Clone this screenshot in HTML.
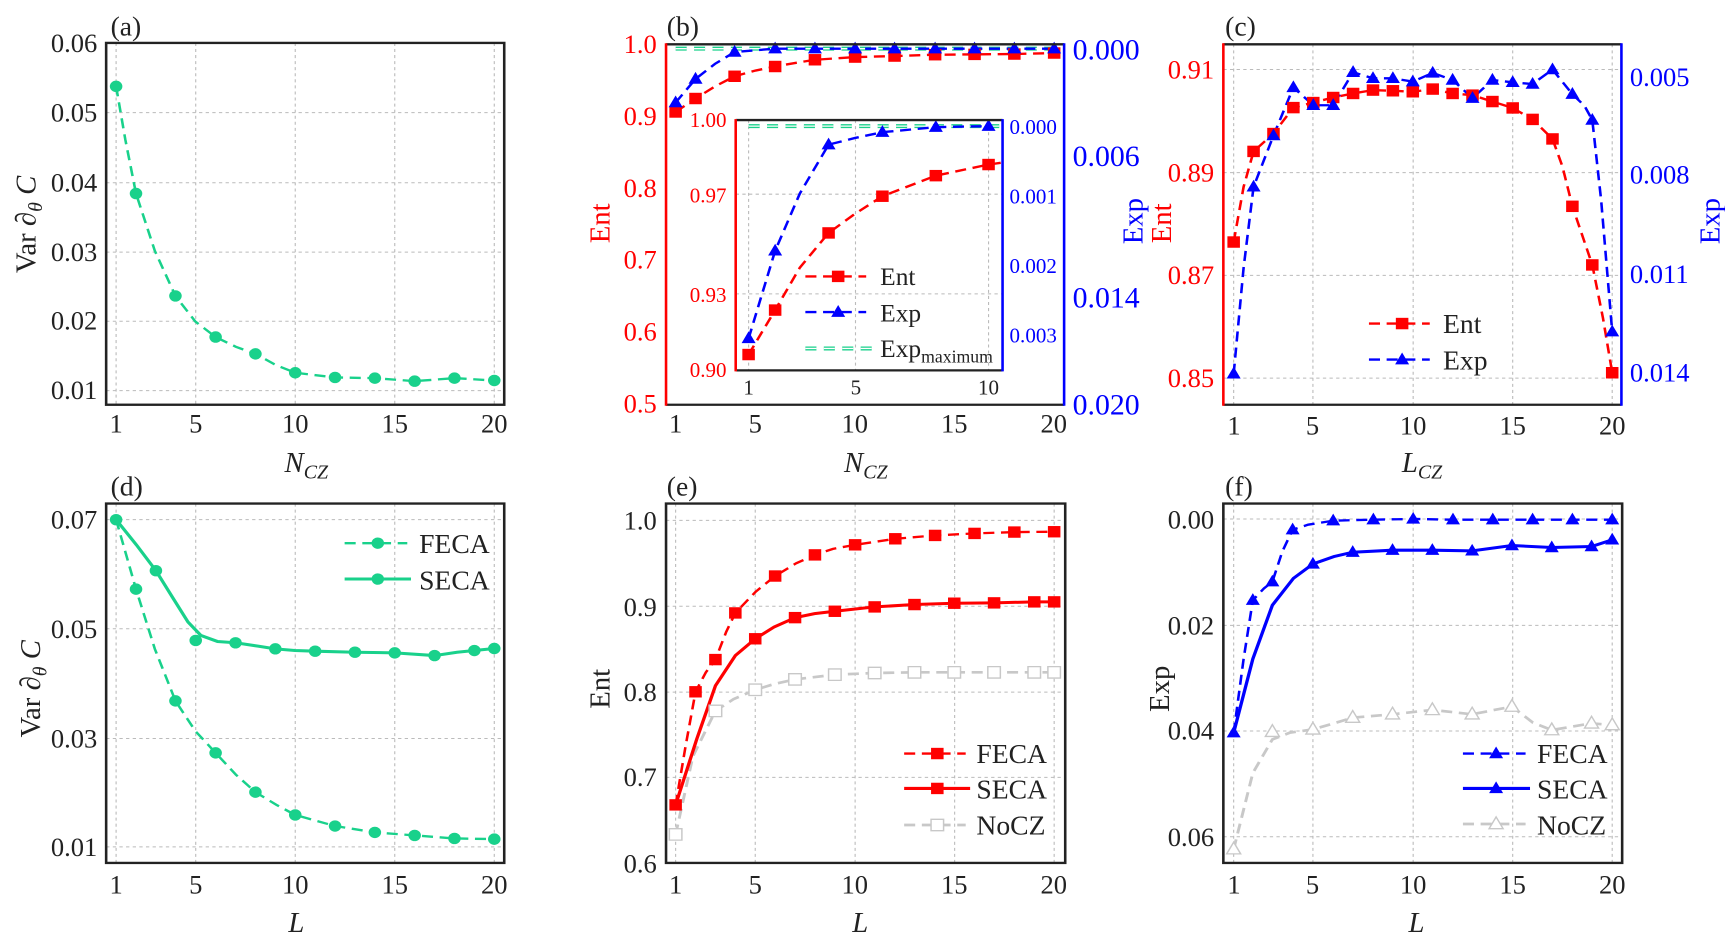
<!DOCTYPE html>
<html><head><meta charset="utf-8"><style>
html,body{margin:0;padding:0;background:#fff;}
svg{display:block;}
text{font-family:"Liberation Serif",serif;}
</style></head><body>
<svg width="1725" height="942" viewBox="0 0 1560 852" preserveAspectRatio="none" xmlns="http://www.w3.org/2000/svg">
<defs>
<path id="sq" d="M-17-17h34v34h-34z"/>
<path id="tri" d="M0-21L19 14H-19Z"/>
<circle id="ci" r="17"/>
</defs>
<rect width="1560" height="852" fill="#fff"/>

<!-- ===== Panel (a) ===== -->
<g transform="translate(0,-1.7) scale(0.33333,0.3047)">
<g stroke="#bbb" stroke-width="3" stroke-dasharray="9,9" fill="none">
<path d="M315 133V1207M531 133V1207M801 133V1207M1071 133V1207M1341 133V1207"/>
<path d="M288 340H1368M288 548H1368M288 754H1368M288 959H1368M288 1165H1368"/>
</g>
<polyline fill="none" stroke="#19d18b" stroke-width="7" stroke-dasharray="30,18" points="315,262 340,420 369,580 420,750 476,884 530,960 585,1006 640,1035 693,1056 750,1090 801,1112 909,1126 1017,1128 1125,1137 1233,1128 1341,1135"/>
<g fill="#19d18b">
<use href="#ci" x="315" y="262"/><use href="#ci" x="369" y="580"/><use href="#ci" x="476" y="884"/><use href="#ci" x="585" y="1006"/><use href="#ci" x="693" y="1056"/><use href="#ci" x="801" y="1112"/><use href="#ci" x="909" y="1126"/><use href="#ci" x="1017" y="1128"/><use href="#ci" x="1125" y="1137"/><use href="#ci" x="1233" y="1128"/><use href="#ci" x="1341" y="1135"/>
</g>
<rect x="288" y="133" width="1080" height="1074" fill="none" stroke="#222" stroke-width="7"/>
</g>
<g font-size="24" fill="#222" text-anchor="end">
<text x="88" y="47">0.06</text><text x="88" y="110">0.05</text><text x="88" y="173">0.04</text><text x="88" y="236">0.03</text><text x="88" y="298">0.02</text><text x="88" y="361">0.01</text>
</g>
<g font-size="24" fill="#222" text-anchor="middle">
<text x="105" y="391">1</text><text x="177" y="391">5</text><text x="267" y="391">10</text><text x="357" y="391">15</text><text x="447" y="391">20</text>
</g>
<text x="100" y="32" font-size="25" fill="#222">(a)</text>
<text transform="translate(32,203) rotate(-90)" font-size="26" fill="#222" text-anchor="middle">Var <tspan font-style="italic">∂</tspan><tspan font-style="italic" font-size="18" dy="6">θ</tspan><tspan font-style="italic" dy="-6"> C</tspan></text>
<text x="277" y="427" font-size="26" font-style="italic" fill="#222" text-anchor="middle">N<tspan font-size="18" dy="6">CZ</tspan></text>

<!-- ===== Panel (b) ===== -->
<g transform="translate(520,-1.7) scale(0.33333,0.3047)">
<polyline fill="none" stroke="#19d18b" stroke-width="12" stroke-dasharray="30,20" points="273,150 1315,150"/>
<polyline fill="none" stroke="#fff" stroke-width="4" stroke-dasharray="30,20" points="273,150 1315,150"/>
<polyline fill="none" stroke="#f00" stroke-width="7" stroke-dasharray="30,18" points="273,338 327,298 380,262 433,232 490,215 543,203 600,192 651,183 760,175 867,172 977,168 1084,167 1192,166 1300,163"/>
<polyline fill="none" stroke="#00f" stroke-width="7" stroke-dasharray="30,18" points="273,310 327,240 380,195 433,160 543,150 651,150 760,150 867,150 977,150 1084,150 1192,150 1300,150"/>
<g fill="#f00"><use href="#sq" x="273" y="338"/><use href="#sq" x="327" y="298"/><use href="#sq" x="433" y="232"/><use href="#sq" x="543" y="203"/><use href="#sq" x="651" y="183"/><use href="#sq" x="760" y="175"/><use href="#sq" x="867" y="172"/><use href="#sq" x="977" y="168"/><use href="#sq" x="1084" y="167"/><use href="#sq" x="1192" y="166"/><use href="#sq" x="1300" y="163"/></g>
<g fill="#00f"><use href="#tri" x="273" y="310"/><use href="#tri" x="327" y="240"/><use href="#tri" x="433" y="160"/><use href="#tri" x="543" y="150"/><use href="#tri" x="651" y="150"/><use href="#tri" x="760" y="150"/><use href="#tri" x="867" y="150"/><use href="#tri" x="977" y="150"/><use href="#tri" x="1084" y="150"/><use href="#tri" x="1192" y="150"/><use href="#tri" x="1300" y="150"/></g>
<path d="M247 137H1327M247 1207H1327" stroke="#222" stroke-width="7"/>
<path d="M247 134V1210" stroke="#f00" stroke-width="7"/>
<path d="M1327 134V1210" stroke="#00f" stroke-width="7"/>
<!-- inset -->
<rect x="436" y="362" width="724" height="743" fill="#fff"/>
<g stroke="#bbb" stroke-width="3" stroke-dasharray="9,9" fill="none">
<path d="M471 362V1105M761 362V1105M1122 362V1105M436 582H1160M436 878H1160"/>
</g>
<polyline fill="none" stroke="#19d18b" stroke-width="12" stroke-dasharray="30,20" points="471,380 1160,380"/>
<polyline fill="none" stroke="#fff" stroke-width="4" stroke-dasharray="30,20" points="471,380 1160,380"/>
<polyline fill="none" stroke="#f00" stroke-width="7" stroke-dasharray="30,18" points="471,1058 543,926 610,800 688,697 760,640 834,588 979,527 1122,494 1160,488"/>
<polyline fill="none" stroke="#00f" stroke-width="7" stroke-dasharray="30,18" points="471,1010 543,750 610,580 688,435 760,415 834,398 979,383 1122,380"/>
<g fill="#f00"><use href="#sq" x="471" y="1058"/><use href="#sq" x="543" y="926"/><use href="#sq" x="688" y="697"/><use href="#sq" x="834" y="588"/><use href="#sq" x="979" y="527"/><use href="#sq" x="1122" y="494"/></g>
<g fill="#00f"><use href="#tri" x="471" y="1010"/><use href="#tri" x="543" y="750"/><use href="#tri" x="688" y="435"/><use href="#tri" x="834" y="398"/><use href="#tri" x="979" y="383"/><use href="#tri" x="1122" y="380"/></g>
<path d="M625 826H790" stroke="#f00" stroke-width="7" stroke-dasharray="30,18"/><use href="#sq" x="714" y="826" fill="#f00"/>
<path d="M625 932H790" stroke="#00f" stroke-width="7" stroke-dasharray="30,18"/><use href="#tri" x="714" y="932" fill="#00f"/>
<path d="M625 1040H805" stroke="#19d18b" stroke-width="12" stroke-dasharray="30,20"/><path d="M625 1040H805" stroke="#fff" stroke-width="4" stroke-dasharray="30,20"/>
<path d="M436 362H1160M436 1105H1160" stroke="#222" stroke-width="7"/>
<path d="M436 359V1108" stroke="#f00" stroke-width="7"/>
<path d="M1160 359V1108" stroke="#00f" stroke-width="7"/>
</g>
<g font-size="24" fill="#f00" text-anchor="end">
<text x="594" y="48">1.0</text><text x="594" y="113">0.9</text><text x="594" y="178">0.8</text><text x="594" y="243">0.7</text><text x="594" y="308">0.6</text><text x="594" y="373">0.5</text>
</g>
<g font-size="27" fill="#00f">
<text x="970" y="54">0.000</text><text x="970" y="150">0.006</text><text x="970" y="278">0.014</text><text x="970" y="375">0.020</text>
</g>
<g font-size="24" fill="#222" text-anchor="middle">
<text x="611" y="391">1</text><text x="683" y="391">5</text><text x="773" y="391">10</text><text x="863" y="391">15</text><text x="953" y="391">20</text>
</g>
<g font-size="19" fill="#f00" text-anchor="end">
<text x="657" y="115">1.00</text><text x="657" y="183">0.97</text><text x="657" y="273">0.93</text><text x="657" y="341">0.90</text>
</g>
<g font-size="19" fill="#00f">
<text x="913" y="121">0.000</text><text x="913" y="184">0.001</text><text x="913" y="247">0.002</text><text x="913" y="310">0.003</text>
</g>
<g font-size="19" fill="#222" text-anchor="middle">
<text x="677" y="357">1</text><text x="774" y="357">5</text><text x="894" y="357">10</text>
</g>
<g font-size="23" fill="#222">
<text x="796" y="258">Ent</text><text x="796" y="291">Exp</text><text x="796" y="323">Exp<tspan font-size="16" dy="5">maximum</tspan></text>
</g>
<text x="603" y="32" font-size="25" fill="#222">(b)</text>
<text transform="translate(551,202) rotate(-90)" font-size="26" fill="#f00" text-anchor="middle">Ent</text>
<text transform="translate(1033,200) rotate(-90)" font-size="26" fill="#00f" text-anchor="middle">Exp</text>
<text x="783" y="427" font-size="26" font-style="italic" fill="#222" text-anchor="middle">N<tspan font-size="18" dy="6">CZ</tspan></text>

<!-- ===== Panel (c) ===== -->
<g transform="translate(1043,-1.7) scale(0.33333,0.3047)">
<g stroke="#bbb" stroke-width="3" stroke-dasharray="9,9" fill="none">
<path d="M218 137V1207M433 137V1207M705 137V1207M975 137V1207M1245 137V1207"/>
<path d="M190 212H1270M190 518H1270M190 823H1270M190 1128H1270"/>
</g>
<polyline fill="none" stroke="#f00" stroke-width="7" stroke-dasharray="30,18" points="218,724 245,560 272,455 326,402 380,325 434,310 488,295 542,283 596,273 650,275 704,278 758,270 812,283 866,288 920,307 975,326 1029,360 1083,418 1110,500 1137,618 1191,792 1220,950 1245,1112"/>
<polyline fill="none" stroke="#00f" stroke-width="7" stroke-dasharray="30,18" points="218,1115 245,800 272,560 326,408 380,265 434,318 488,318 542,220 596,238 650,238 704,248 758,222 812,243 866,297 920,243 975,250 1029,255 1083,212 1137,285 1170,320 1191,362 1215,600 1245,990"/>
<g fill="#f00"><use href="#sq" x="218" y="724"/><use href="#sq" x="272" y="455"/><use href="#sq" x="326" y="402"/><use href="#sq" x="380" y="325"/><use href="#sq" x="434" y="310"/><use href="#sq" x="488" y="295"/><use href="#sq" x="542" y="283"/><use href="#sq" x="596" y="273"/><use href="#sq" x="650" y="275"/><use href="#sq" x="704" y="278"/><use href="#sq" x="758" y="270"/><use href="#sq" x="812" y="283"/><use href="#sq" x="866" y="288"/><use href="#sq" x="920" y="307"/><use href="#sq" x="975" y="326"/><use href="#sq" x="1029" y="360"/><use href="#sq" x="1083" y="418"/><use href="#sq" x="1137" y="618"/><use href="#sq" x="1191" y="792"/><use href="#sq" x="1245" y="1112"/></g>
<g fill="#00f"><use href="#tri" x="218" y="1115"/><use href="#tri" x="272" y="560"/><use href="#tri" x="326" y="408"/><use href="#tri" x="380" y="265"/><use href="#tri" x="434" y="318"/><use href="#tri" x="488" y="318"/><use href="#tri" x="542" y="220"/><use href="#tri" x="596" y="238"/><use href="#tri" x="650" y="238"/><use href="#tri" x="704" y="248"/><use href="#tri" x="758" y="222"/><use href="#tri" x="812" y="243"/><use href="#tri" x="866" y="297"/><use href="#tri" x="920" y="243"/><use href="#tri" x="975" y="250"/><use href="#tri" x="1029" y="255"/><use href="#tri" x="1083" y="212"/><use href="#tri" x="1137" y="285"/><use href="#tri" x="1191" y="362"/><use href="#tri" x="1245" y="990"/></g>
<path d="M585 966H750" stroke="#f00" stroke-width="7" stroke-dasharray="30,18"/><use href="#sq" x="675" y="966" fill="#f00"/>
<path d="M585 1073H750" stroke="#00f" stroke-width="7" stroke-dasharray="30,18"/><use href="#tri" x="675" y="1073" fill="#00f"/>
<path d="M190 137H1270M190 1207H1270" stroke="#222" stroke-width="7"/>
<path d="M190 134V1210" stroke="#f00" stroke-width="7"/>
<path d="M1270 134V1210" stroke="#00f" stroke-width="7"/>
</g>
<g font-size="24" fill="#f00" text-anchor="end">
<text x="1098" y="71">0.91</text><text x="1098" y="164">0.89</text><text x="1098" y="257">0.87</text><text x="1098" y="350">0.85</text>
</g>
<g font-size="24" fill="#00f">
<text x="1474" y="78">0.005</text><text x="1474" y="166">0.008</text><text x="1474" y="256">0.011</text><text x="1474" y="345">0.014</text>
</g>
<g font-size="24" fill="#222" text-anchor="middle">
<text x="1116" y="393">1</text><text x="1187" y="393">5</text><text x="1278" y="393">10</text><text x="1368" y="393">15</text><text x="1458" y="393">20</text>
</g>
<g font-size="25" fill="#222"><text x="1305" y="301">Ent</text><text x="1305" y="334">Exp</text></g>
<text x="1108" y="32" font-size="25" fill="#222">(c)</text>
<text transform="translate(1059,202) rotate(-90)" font-size="26" fill="#f00" text-anchor="middle">Ent</text>
<text transform="translate(1555,200) rotate(-90)" font-size="26" fill="#00f" text-anchor="middle">Exp</text>
<text x="1286" y="427" font-size="26" font-style="italic" fill="#222" text-anchor="middle">L<tspan font-size="18" dy="6">CZ</tspan></text>

<!-- ===== Panel (d) ===== -->
<g transform="translate(0,426) scale(0.33333,0.3035)">
<g stroke="#bbb" stroke-width="3" stroke-dasharray="9,9" fill="none">
<path d="M315 97V1168M531 97V1168M801 97V1168M1071 97V1168M1341 97V1168"/>
<path d="M288 145H1368M288 470H1368M288 797H1368M288 1120H1368"/>
</g>
<polyline fill="none" stroke="#19d18b" stroke-width="7" stroke-dasharray="30,18" points="315,145 369,352 420,530 476,685 530,775 585,840 640,905 693,957 750,995 801,1025 909,1058 1017,1077 1125,1086 1233,1095 1341,1097"/>
<polyline fill="none" stroke="#19d18b" stroke-width="9" points="315,145 370,220 423,297 470,380 510,450 545,490 590,508 639,512 700,522 747,530 800,535 855,537 963,540 1071,542 1179,550 1240,540 1287,535 1341,529"/>
<g fill="#19d18b">
<use href="#ci" x="315" y="145"/><use href="#ci" x="369" y="352"/><use href="#ci" x="476" y="685"/><use href="#ci" x="585" y="840"/><use href="#ci" x="693" y="957"/><use href="#ci" x="801" y="1025"/><use href="#ci" x="909" y="1058"/><use href="#ci" x="1017" y="1077"/><use href="#ci" x="1125" y="1086"/><use href="#ci" x="1233" y="1095"/><use href="#ci" x="1341" y="1097"/>
<use href="#ci" x="423" y="297"/><use href="#ci" x="531" y="505"/><use href="#ci" x="639" y="512"/><use href="#ci" x="747" y="530"/><use href="#ci" x="855" y="537"/><use href="#ci" x="963" y="540"/><use href="#ci" x="1071" y="542"/><use href="#ci" x="1179" y="550"/><use href="#ci" x="1287" y="535"/><use href="#ci" x="1341" y="529"/>
<use href="#ci" x="1025" y="215"/><use href="#ci" x="1025" y="322"/>
</g>
<path d="M935 215H1105" stroke="#19d18b" stroke-width="7" stroke-dasharray="30,18"/>
<path d="M935 322H1115" stroke="#19d18b" stroke-width="9"/>
<rect x="288" y="97" width="1080" height="1071" fill="none" stroke="#222" stroke-width="7"/>
</g>
<g font-size="24" fill="#222" text-anchor="end">
<text x="88" y="478">0.07</text><text x="88" y="577">0.05</text><text x="88" y="676">0.03</text><text x="88" y="774">0.01</text>
</g>
<g font-size="24" fill="#222" text-anchor="middle">
<text x="105" y="808">1</text><text x="177" y="808">5</text><text x="267" y="808">10</text><text x="357" y="808">15</text><text x="447" y="808">20</text>
</g>
<g font-size="25" fill="#222"><text x="379" y="500">FECA</text><text x="379" y="533">SECA</text></g>
<text x="100" y="448" font-size="25" fill="#222">(d)</text>
<text transform="translate(36,623) rotate(-90)" font-size="26" fill="#222" text-anchor="middle">Var <tspan font-style="italic">∂</tspan><tspan font-style="italic" font-size="18" dy="6">θ</tspan><tspan font-style="italic" dy="-6"> C</tspan></text>
<text x="268" y="843" font-size="26" font-style="italic" fill="#222" text-anchor="middle">L</text>

<!-- ===== Panel (e) ===== -->
<g transform="translate(520,426) scale(0.33333,0.3035)">
<g stroke="#bbb" stroke-width="3" stroke-dasharray="9,9" fill="none">
<path d="M273 97V1168M489 97V1168M760 97V1168M1030 97V1168M1300 97V1168"/>
<path d="M247 147H1330M247 403H1330M247 659H1330M247 913H1330"/>
</g>
<polyline fill="none" stroke="#c8c8c8" stroke-width="8" stroke-dasharray="30,18" points="273,1083 320,850 381,715 430,680 489,652 540,635 597,621 705,607 813,602 921,600 1029,600 1137,600 1246,600 1300,600"/>
<polyline fill="none" stroke="#f00" stroke-width="7" stroke-dasharray="30,18" points="273,995 300,820 327,658 355,600 381,562 410,480 435,423 490,360 543,313 600,275 651,250 700,232 760,220 869,202 977,192 1084,186 1192,182 1300,181"/>
<polyline fill="none" stroke="#f00" stroke-width="9" points="273,995 330,800 381,640 435,550 489,500 540,465 597,437 650,425 705,418 813,405 921,398 1029,394 1137,393 1246,390 1300,390"/>
<g fill="#fff" stroke="#c8c8c8" stroke-width="4"><use href="#sq" x="273" y="1083"/><use href="#sq" x="381" y="715"/><use href="#sq" x="489" y="652"/><use href="#sq" x="597" y="621"/><use href="#sq" x="705" y="607"/><use href="#sq" x="813" y="602"/><use href="#sq" x="921" y="600"/><use href="#sq" x="1029" y="600"/><use href="#sq" x="1137" y="600"/><use href="#sq" x="1246" y="600"/><use href="#sq" x="1300" y="600"/></g>
<g fill="#f00"><use href="#sq" x="273" y="995"/><use href="#sq" x="327" y="658"/><use href="#sq" x="381" y="562"/><use href="#sq" x="435" y="423"/><use href="#sq" x="543" y="313"/><use href="#sq" x="651" y="250"/><use href="#sq" x="760" y="220"/><use href="#sq" x="869" y="202"/><use href="#sq" x="977" y="192"/><use href="#sq" x="1084" y="186"/><use href="#sq" x="1192" y="182"/><use href="#sq" x="1300" y="181"/>
<use href="#sq" x="489" y="500"/><use href="#sq" x="597" y="437"/><use href="#sq" x="705" y="418"/><use href="#sq" x="813" y="405"/><use href="#sq" x="921" y="398"/><use href="#sq" x="1029" y="394"/><use href="#sq" x="1137" y="393"/><use href="#sq" x="1246" y="390"/><use href="#sq" x="1300" y="390"/></g>
<path d="M893 842H1060" stroke="#f00" stroke-width="7" stroke-dasharray="30,18"/><use href="#sq" x="983" y="842" fill="#f00"/>
<path d="M893 946H1072" stroke="#f00" stroke-width="9"/><use href="#sq" x="983" y="946" fill="#f00"/>
<path d="M893 1055H1060" stroke="#c8c8c8" stroke-width="8" stroke-dasharray="30,18"/><use href="#sq" x="983" y="1055" fill="#fff" stroke="#c8c8c8" stroke-width="4"/>
<rect x="247" y="97" width="1083" height="1071" fill="none" stroke="#222" stroke-width="7"/>
</g>
<g font-size="24" fill="#222" text-anchor="end">
<text x="594" y="479">1.0</text><text x="594" y="557">0.9</text><text x="594" y="634">0.8</text><text x="594" y="711">0.7</text><text x="594" y="789">0.6</text>
</g>
<g font-size="24" fill="#222" text-anchor="middle">
<text x="611" y="808">1</text><text x="683" y="808">5</text><text x="773" y="808">10</text><text x="863" y="808">15</text><text x="953" y="808">20</text>
</g>
<g font-size="25" fill="#222"><text x="883" y="690">FECA</text><text x="883" y="722">SECA</text><text x="883" y="755">NoCZ</text></g>
<text x="603" y="448" font-size="25" fill="#222">(e)</text>
<text transform="translate(551,623) rotate(-90)" font-size="26" fill="#222" text-anchor="middle">Ent</text>
<text x="778" y="843" font-size="26" font-style="italic" fill="#222" text-anchor="middle">L</text>

<!-- ===== Panel (f) ===== -->
<g transform="translate(1043,426) scale(0.33333,0.3035)">
<g stroke="#bbb" stroke-width="3" stroke-dasharray="9,9" fill="none">
<path d="M218 97V1168M433 97V1168M705 97V1168M975 97V1168M1245 97V1168"/>
<path d="M190 143H1272M190 460H1272M190 775H1272M190 1090H1272"/>
</g>
<polyline fill="none" stroke="#c8c8c8" stroke-width="8" stroke-dasharray="30,18" points="218,1127 270,900 323,800 370,780 433,770 490,752 541,735 649,725 757,712 865,725 973,702 1030,750 1081,772 1189,752 1245,757"/>
<polyline fill="none" stroke="#00f" stroke-width="7" stroke-dasharray="30,18" points="218,780 245,560 270,385 300,350 323,330 350,240 378,175 420,160 488,148 597,145 705,143 813,145 921,145 1029,145 1137,145 1245,145"/>
<polyline fill="none" stroke="#00f" stroke-width="9" points="218,780 270,560 323,400 380,320 433,277 490,255 541,242 649,236 757,236 865,238 973,222 1081,228 1189,225 1245,205"/>
<g fill="#fff" stroke="#c8c8c8" stroke-width="4"><use href="#tri" x="218" y="1127"/><use href="#tri" x="323" y="777"/><use href="#tri" x="433" y="770"/><use href="#tri" x="541" y="735"/><use href="#tri" x="649" y="725"/><use href="#tri" x="757" y="712"/><use href="#tri" x="865" y="725"/><use href="#tri" x="973" y="702"/><use href="#tri" x="1081" y="772"/><use href="#tri" x="1189" y="752"/><use href="#tri" x="1245" y="757"/></g>
<g fill="#00f"><use href="#tri" x="218" y="780"/><use href="#tri" x="270" y="385"/><use href="#tri" x="323" y="330"/><use href="#tri" x="378" y="175"/><use href="#tri" x="488" y="148"/><use href="#tri" x="597" y="145"/><use href="#tri" x="705" y="143"/><use href="#tri" x="813" y="145"/><use href="#tri" x="921" y="145"/><use href="#tri" x="1029" y="145"/><use href="#tri" x="1137" y="145"/><use href="#tri" x="1245" y="145"/>
<use href="#tri" x="433" y="277"/><use href="#tri" x="541" y="242"/><use href="#tri" x="649" y="236"/><use href="#tri" x="757" y="236"/><use href="#tri" x="865" y="238"/><use href="#tri" x="973" y="222"/><use href="#tri" x="1081" y="228"/><use href="#tri" x="1189" y="225"/><use href="#tri" x="1245" y="205"/></g>
<path d="M840 842H1010" stroke="#00f" stroke-width="7" stroke-dasharray="30,18"/><use href="#tri" x="930" y="842" fill="#00f"/>
<path d="M840 946H1022" stroke="#00f" stroke-width="9"/><use href="#tri" x="930" y="946" fill="#00f"/>
<path d="M840 1052H1010" stroke="#c8c8c8" stroke-width="8" stroke-dasharray="30,18"/><use href="#tri" x="930" y="1052" fill="#fff" stroke="#c8c8c8" stroke-width="4"/>
<rect x="190" y="97" width="1082" height="1071" fill="none" stroke="#222" stroke-width="7"/>
</g>
<g font-size="24" fill="#222" text-anchor="end">
<text x="1098" y="478">0.00</text><text x="1098" y="574">0.02</text><text x="1098" y="669">0.04</text><text x="1098" y="765">0.06</text>
</g>
<g font-size="24" fill="#222" text-anchor="middle">
<text x="1116" y="808">1</text><text x="1187" y="808">5</text><text x="1278" y="808">10</text><text x="1368" y="808">15</text><text x="1458" y="808">20</text>
</g>
<g font-size="25" fill="#222"><text x="1390" y="690">FECA</text><text x="1390" y="722">SECA</text><text x="1390" y="755">NoCZ</text></g>
<text x="1108" y="448" font-size="25" fill="#222">(f)</text>
<text transform="translate(1057,623) rotate(-90)" font-size="26" fill="#222" text-anchor="middle">Exp</text>
<text x="1281" y="843" font-size="26" font-style="italic" fill="#222" text-anchor="middle">L</text>
</svg>
</body></html>
